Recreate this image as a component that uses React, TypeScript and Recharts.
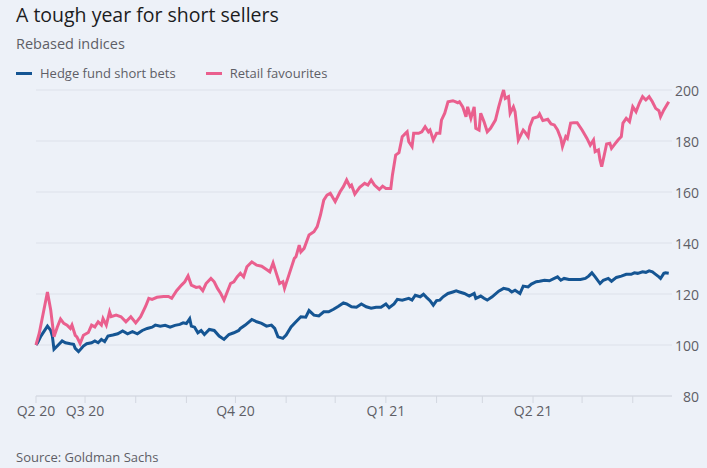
import { CartesianGrid, Line, LineChart, XAxis, YAxis } from "recharts";

// days counted from 1 Jun 2020
const hedgeDays = [
  0, 1, 3, 7, 9, 10, 11, 13, 16, 18, 21, 23, 24, 26, 29, 31, 34, 36, 38, 40, 42, 44, 47, 50, 53, 56, 59, 62, 65,
  68, 71, 73, 76, 79, 82, 85, 88, 90, 92, 94, 95, 97, 99, 101, 103, 106, 109, 112, 115, 118, 121, 124, 125, 128,
  132, 135, 138, 141, 144, 146, 148, 151, 153, 156, 159, 162, 165, 167, 170, 173, 176, 179, 182, 185, 188, 190,
  193, 196, 199, 202, 205, 208, 211, 214, 216, 219, 221, 224, 228, 230, 232, 235, 237, 239, 241, 243, 245, 247,
  249, 252, 255, 257, 259, 262, 265, 268, 269, 272, 274, 276, 279, 283, 286, 289, 291, 293, 296, 298, 301, 303,
  306, 308, 311, 314, 317, 319, 321, 323, 326, 329, 333, 336, 338, 340, 342, 345, 347, 350, 352, 355, 358, 361,
  364, 366, 368, 371, 373, 375, 377, 379, 381, 382, 384, 385, 387,
];
const hedgeValues = [
  100, 100.9, 103.5, 107.4, 105.7, 103.5, 98.3, 99.6, 101.6, 100.9, 100.5, 100.3, 98.7, 97.4, 99.6, 100.5, 100.9,
  101.6, 100.9, 102.2, 101.3, 103.5, 103.9, 104.4, 105.5, 104.4, 105.2, 104.4, 105.7, 106.5, 107, 107.8, 107.4,
  107.7, 107, 107.7, 108.1, 108.7, 108.4, 110.3, 107.4, 107, 104.8, 105.7, 104.1, 106.1, 105.7, 103.5, 102.2,
  104.1, 104.8, 105.7, 106.5, 107.8, 110, 109.1, 108.5, 107.4, 107.8, 106.5, 103.2, 102.6, 103.9, 107.1, 109.1,
  111.1, 110.9, 113.5, 111.7, 111.4, 113, 113, 114, 115.2, 116.5, 116.1, 115, 114.8, 116.1, 115, 114.4, 114.8,
  114.8, 116.1, 114.6, 116.1, 117.9, 117.6, 118.3, 117.6, 119.5, 118.9, 119.9, 118.6, 117.4, 115.6, 117.4, 117.6,
  118.9, 120.2, 120.8, 121.2, 120.8, 120.2, 119.2, 120.2, 118.3, 119.2, 118.3, 117.6, 118.9, 121.1, 122.2, 121.8,
  120.8, 121.5, 120.2, 123.1, 122.8, 123.9, 124.8, 125, 125.4, 125.2, 126.1, 126.7, 125.4, 126.1, 125.7, 125.7,
  125.7, 126.1, 127, 128.3, 126.7, 124.1, 125.4, 126.1, 125, 126.5, 127, 127.7, 127.7, 128.3, 128.1, 128.7, 128.5,
  129.1, 128.7, 127.7, 126.7, 126.1, 128.1, 128.3, 128.1,
];

const retailDays = [
  0, 2, 7, 9, 11, 13, 15, 17, 19, 21, 22, 24, 25, 27, 29, 32, 34, 36, 38, 40, 41, 43, 45, 46, 49, 52, 55, 58, 61,
  64, 67, 69, 71, 74, 78, 81, 83, 86, 89, 91, 93, 95, 98, 100, 102, 104, 107, 109, 111, 113, 115, 119, 121, 123,
  125, 127, 129, 132, 135, 138, 141, 143, 145, 147, 149, 151, 152, 155, 158, 159, 161, 162, 164, 167, 170, 172,
  174, 176, 178, 180, 183, 186, 188, 190, 192, 193, 195, 198, 201, 203, 205, 207, 210, 212, 214, 217, 218, 220,
  222, 224, 226, 227, 228, 230, 231, 234, 236, 238, 240, 241, 243, 245, 247, 248, 250, 252, 255, 258, 259, 261,
  263, 264, 266, 268, 269, 271, 272, 274, 276, 278, 281, 283, 285, 286, 287, 289, 290, 292, 293, 295, 298, 299,
  301, 302, 304, 307, 308, 310, 313, 315, 317, 319, 321, 322, 324, 325, 327, 329, 331, 334, 337, 339, 341, 342,
  344, 345, 346, 348, 349, 351, 352, 354, 356, 358, 359, 361, 363, 365, 367, 369, 371, 373, 375, 377, 379, 381,
  382, 384, 387,
];
const retailValues = [
  100, 104.6, 120.8, 113.7, 103.2, 107, 110.2, 108.5, 107.8, 106.5, 107.8, 103.8, 103.2, 100.6, 103.8, 104.9,
  107.8, 107.1, 109.1, 107.8, 110.4, 107.8, 113, 111.1, 111.7, 111.1, 109.1, 111.1, 108.7, 111.1, 115.1, 118.3,
  117.9, 118.7, 119, 119, 118.3, 121.3, 123.5, 124.8, 127.1, 123.5, 122.6, 122.8, 121.3, 124.1, 126.1, 124.8,
  122.2, 120.2, 117.6, 124.1, 124.8, 126.7, 128.1, 126.7, 130.7, 132.6, 131.3, 130.9, 129.6, 128.7, 132.2, 128.1,
  124.1, 124.8, 122.2, 128.1, 134, 134.6, 139.2, 136.5, 137.9, 143.1, 144.4, 146.4, 151, 156.8, 158.8, 159.5,
  156.2, 160.1, 162.1, 164.7, 162.1, 162.7, 159.2, 161.8, 163.4, 162.7, 164.7, 162.7, 161, 162.3, 161.4, 161.4,
  166.6, 174.5, 175.4, 181.7, 183, 183.6, 179.7, 177.8, 183, 183, 183.6, 185.6, 183.6, 184.3, 180.4, 183, 183,
  188.2, 190.9, 195.4, 195.8, 195, 195.4, 193.4, 189.5, 193.4, 188.9, 193.4, 185, 184.3, 190.9, 187.6, 183.6, 185,
  188.2, 193.4, 198, 200, 196.7, 197.4, 190.9, 193.4, 191.5, 180.4, 184.3, 183.6, 181.7, 185.6, 188.9, 189.5,
  190.6, 188, 188.5, 186.7, 186.3, 184.3, 181, 177.8, 181.7, 181, 187, 187.2, 187.2, 184.3, 181, 178.4, 180.4,
  175.8, 176.5, 172.5, 169.9, 175.8, 178.8, 179.1, 177.1, 178.8, 180.4, 181.7, 187, 188.9, 187.6, 193.4, 191.5,
  194.8, 197.4, 196.1, 197.4, 195.4, 192.8, 191.9, 189.5, 192.2, 195.4,
];

const monthTicks = [0, 30, 61, 92, 122, 153, 183, 214, 245, 273, 304, 334, 365];
const quarterLabels: Record<number, string> = {
  0: "Q2 20",
  30: "Q3 20",
  122: "Q4 20",
  214: "Q1 21",
  304: "Q2 21",
};
const valueTicks = [80, 100, 120, 140, 160, 180, 200];

const hedgeData = hedgeDays.map((day, i) => ({ day, value: hedgeValues[i] }));
const retailData = retailDays.map((day, i) => ({ day, value: retailValues[i] }));

const FONT = "'Open Sans', 'Noto Sans', sans-serif";
const BLUE = "#155593";
const PINK = "#ea5f8e";
const GREY = "#5e5e66";

function ValueTick({ y, payload }: any) {
  return (
    <text x={707 - 8} y={y + 2} textAnchor="end" dominantBaseline="middle" fill={GREY} fontSize={14} fontFamily={FONT}>
      {payload.value}
    </text>
  );
}

export default function App() {
  return (
    <div
      style={{
        position: "absolute",
        left: 0,
        top: 0,
        width: 707,
        height: 468,
        background: "#edf1f8",
        fontFamily: FONT,
        overflow: "hidden",
      }}
    >
      <div style={{ position: "absolute", left: 16, top: 1, fontSize: 19.5, color: "#1c1c1e" }}>
        A tough year for short sellers
      </div>
      <div style={{ position: "absolute", left: 16, top: 34, fontSize: 14.5, color: GREY }}>Rebased indices</div>
      <div style={{ position: "absolute", left: 16, top: 64, fontSize: 13, color: GREY, display: "flex", alignItems: "center" }}>
        <span style={{ width: 16, height: 3, background: BLUE, display: "inline-block", marginRight: 8 }} />
        <span>Hedge fund short bets</span>
        <span style={{ width: 16, height: 3, background: PINK, display: "inline-block", marginLeft: 30, marginRight: 8 }} />
        <span>Retail favourites</span>
      </div>

      <LineChart width={707} height={468} margin={{ top: 90, right: 0, bottom: 42, left: 36 }}>
        <CartesianGrid horizontal vertical={false} stroke="#dde1ea" strokeWidth={1} />
        <XAxis
          dataKey="day"
          type="number"
          domain={[0, 389]}
          ticks={monthTicks}
          tickFormatter={(d: number) => quarterLabels[d] ?? ""}
          interval={0}
          allowDuplicatedCategory={false}
          axisLine={{ stroke: "#d3d7e0" }}
          tickLine={{ stroke: "#d3d7e0" }}
          tickSize={7}
          tickMargin={3}
          height={30}
          tick={{ fill: GREY, fontSize: 14, fontFamily: FONT }}
        />
        <YAxis
          orientation="right"
          domain={[80, 200]}
          ticks={valueTicks}
          width={35}
          axisLine={false}
          tickLine={false}
          tick={<ValueTick />}
        />
        <Line
          data={hedgeData}
          dataKey="value"
          type="linear"
          stroke={BLUE}
          strokeWidth={3}
          dot={false}
          isAnimationActive={false}
        />
        <Line
          data={retailData}
          dataKey="value"
          type="linear"
          stroke={PINK}
          strokeWidth={3}
          dot={false}
          isAnimationActive={false}
        />
      </LineChart>

      <div style={{ position: "absolute", left: 16, top: 448, fontSize: 13, color: GREY }}>Source: Goldman Sachs</div>
    </div>
  );
}
